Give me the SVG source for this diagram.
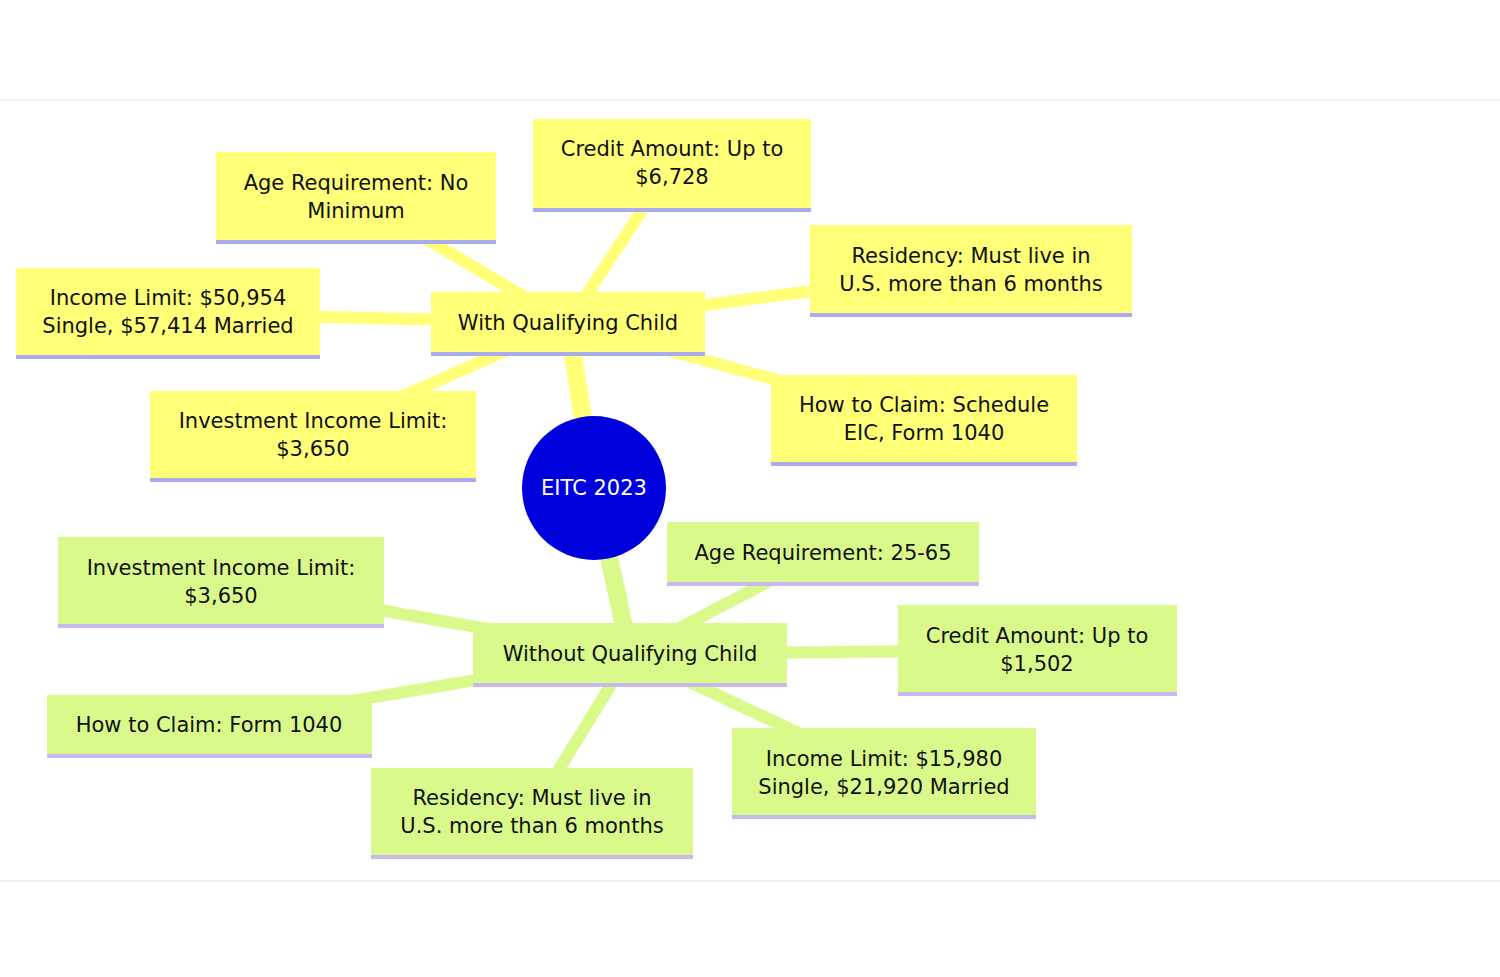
<svg xmlns="http://www.w3.org/2000/svg" width="1500" height="977" viewBox="0 0 1500 977">
<style>
text{font-family:"DejaVu Sans","Liberation Sans",sans-serif;font-size:21px;fill:#111;text-anchor:middle}
.y rect.b{fill:#ffff78}.y rect.u{fill:#aaaaee}
.g rect.b{fill:#d9fa8a}.g rect.u{fill:#c8b8ee}
.cy{stroke:#ffff78;stroke-linecap:round}.cg{stroke:#d9fa8a;stroke-linecap:round}
</style>
<rect width="1500" height="977" fill="#fff"/>
<line x1="0" y1="100" x2="1500" y2="100" stroke="#e4e4e4"/>
<line x1="0" y1="881" x2="1500" y2="881" stroke="#e4e4e4"/>
<g id="connectors" fill="none">
<line class="cy" x1="594" y1="488" x2="568" y2="323" stroke-width="18"/>
<line class="cg" x1="594" y1="488" x2="630" y2="654" stroke-width="18"/>
<line class="cy" x1="568" y1="323" x2="672" y2="165" stroke-width="12"/>
<line class="cy" x1="568" y1="323" x2="356" y2="197" stroke-width="12"/>
<line class="cy" x1="568" y1="323" x2="971" y2="270" stroke-width="12"/>
<line class="cy" x1="568" y1="323" x2="168" y2="313" stroke-width="12"/>
<line class="cy" x1="568" y1="323" x2="313" y2="436" stroke-width="12"/>
<line class="cy" x1="568" y1="323" x2="924" y2="420" stroke-width="12"/>
<line class="cg" x1="630" y1="654" x2="823" y2="553" stroke-width="12"/>
<line class="cg" x1="630" y1="654" x2="221" y2="582" stroke-width="12"/>
<line class="cg" x1="630" y1="654" x2="1037" y2="650" stroke-width="12"/>
<line class="cg" x1="630" y1="654" x2="209" y2="725" stroke-width="12"/>
<line class="cg" x1="630" y1="654" x2="884" y2="773" stroke-width="12"/>
<line class="cg" x1="630" y1="654" x2="532" y2="813" stroke-width="12"/>
</g>
<g id="root"><circle cx="594" cy="488" r="72" fill="#0000dd"/><text x="594" y="495" style="fill:#fff">EITC 2023</text></g>
<g id="with" class="y"><rect class="b" x="431" y="292" width="274" height="63"/><rect class="u" x="431" y="352" width="274" height="4"/><text x="568" y="330">With Qualifying Child</text></g>
<g id="w-credit" class="y"><rect class="b" x="533" y="119" width="278" height="92"/><rect class="u" x="533" y="208" width="278" height="4"/><text x="672" y="156">Credit Amount: Up to</text><text x="672" y="184">$6,728</text></g>
<g id="w-age" class="y"><rect class="b" x="216" y="152" width="280" height="91"/><rect class="u" x="216" y="240" width="280" height="4"/><text x="356" y="190">Age Requirement: No</text><text x="356" y="218">Minimum</text></g>
<g id="w-res" class="y"><rect class="b" x="810" y="225" width="322" height="91"/><rect class="u" x="810" y="313" width="322" height="4"/><text x="971" y="263">Residency: Must live in</text><text x="971" y="291">U.S. more than 6 months</text></g>
<g id="w-income" class="y"><rect class="b" x="16" y="268" width="304" height="90"/><rect class="u" x="16" y="355" width="304" height="4"/><text x="168" y="305">Income Limit: $50,954</text><text x="168" y="333">Single, $57,414 Married</text></g>
<g id="w-invest" class="y"><rect class="b" x="150" y="391" width="326" height="90"/><rect class="u" x="150" y="478" width="326" height="4"/><text x="313" y="428">Investment Income Limit:</text><text x="313" y="456">$3,650</text></g>
<g id="w-claim" class="y"><rect class="b" x="771" y="375" width="306" height="90"/><rect class="u" x="771" y="462" width="306" height="4"/><text x="924" y="412">How to Claim: Schedule</text><text x="924" y="440">EIC, Form 1040</text></g>
<g id="without" class="g"><rect class="b" x="473" y="623" width="314" height="63"/><rect class="u" x="473" y="683" width="314" height="4"/><text x="630" y="661">Without Qualifying Child</text></g>
<g id="wo-age" class="g"><rect class="b" x="667" y="522" width="312" height="63"/><rect class="u" x="667" y="582" width="312" height="4"/><text x="823" y="560">Age Requirement: 25-65</text></g>
<g id="wo-invest" class="g"><rect class="b" x="58" y="537" width="326" height="90"/><rect class="u" x="58" y="624" width="326" height="4"/><text x="221" y="575">Investment Income Limit:</text><text x="221" y="603">$3,650</text></g>
<g id="wo-credit" class="g"><rect class="b" x="898" y="605" width="279" height="90"/><rect class="u" x="898" y="692" width="279" height="4"/><text x="1037" y="643">Credit Amount: Up to</text><text x="1037" y="671">$1,502</text></g>
<g id="wo-claim" class="g"><rect class="b" x="47" y="695" width="325" height="62"/><rect class="u" x="47" y="754" width="325" height="4"/><text x="209" y="732">How to Claim: Form 1040</text></g>
<g id="wo-income" class="g"><rect class="b" x="732" y="728" width="304" height="90"/><rect class="u" x="732" y="815" width="304" height="4"/><text x="884" y="766">Income Limit: $15,980</text><text x="884" y="794">Single, $21,920 Married</text></g>
<g id="wo-res" class="g"><rect class="b" x="371" y="768" width="322" height="90"/><rect class="u" x="371" y="855" width="322" height="4"/><text x="532" y="805">Residency: Must live in</text><text x="532" y="833">U.S. more than 6 months</text></g>
</svg>
